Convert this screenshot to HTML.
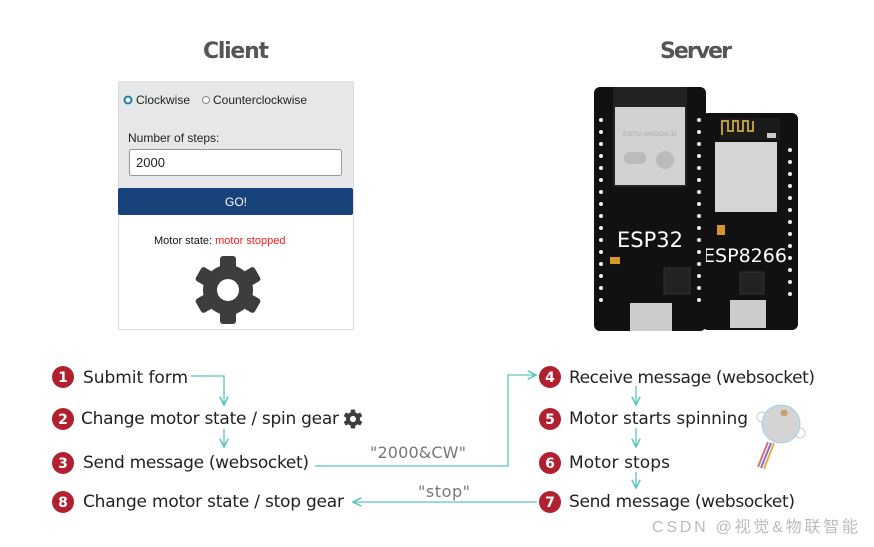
<!DOCTYPE html>
<html><head><meta charset="utf-8"><style>
html,body{margin:0;padding:0;background:#fff;}
body{width:874px;height:547px;position:relative;overflow:hidden;font-family:"Liberation Sans",sans-serif;}
svg{position:absolute;left:0;top:0;}
</style></head><body>
<svg width="874" height="547" viewBox="0 0 874 547" xmlns="http://www.w3.org/2000/svg">
<defs>
<marker id="ar" viewBox="0 0 10 10" refX="9" refY="5" markerWidth="8" markerHeight="8" orient="auto"><path d="M1,1 L9,5 L1,9" fill="none" stroke="#5cc5c0" stroke-width="1.5"/></marker>
<g id="gear">
<circle r="25" fill="#3d3d3d"/>
<g fill="#3d3d3d">
<rect x="-8" y="-34" width="16" height="68" rx="3"/>
<rect x="-8" y="-34" width="16" height="68" rx="3" transform="rotate(60)"/>
<rect x="-8" y="-34" width="16" height="68" rx="3" transform="rotate(120)"/>
</g>
<circle r="11" fill="#fff"/>
</g>
</defs>
<text x="236" y="58" font-size="22" fill="#555" text-anchor="middle" font-weight="bold" font-family="DejaVu Sans, sans-serif" textLength="66">Client</text>
<text x="696" y="58" font-size="22" fill="#555" text-anchor="middle" font-weight="bold" font-family="DejaVu Sans, sans-serif" textLength="72">Server</text>

<!-- client panel -->
<rect x="118.5" y="81.5" width="235" height="248" fill="#fff" stroke="#ddd"/>
<rect x="119" y="82" width="234" height="106" fill="#e6e7e9"/>
<circle cx="128" cy="100" r="3.5" fill="#fff" stroke="#1b7fa5" stroke-width="2"/>
<text x="136" y="104" font-size="12" fill="#222">Clockwise</text>
<circle cx="206" cy="100" r="3.5" fill="#fff" stroke="#888" stroke-width="1"/>
<text x="213" y="104" font-size="12" fill="#222">Counterclockwise</text>
<text x="128" y="142" font-size="12" fill="#222">Number of steps:</text>
<rect x="129.5" y="149.5" width="212" height="26" rx="2" fill="#fff" stroke="#999"/>
<text x="136" y="167" font-size="13" fill="#222">2000</text>
<rect x="118" y="188" width="235" height="27" rx="2" fill="#17437a"/>
<text x="236" y="206" font-size="12" fill="#fff" text-anchor="middle">GO!</text>
<text x="154" y="244" font-size="11" fill="#111">Motor state: <tspan fill="#f21c1c">motor stopped</tspan></text>
<use href="#gear" x="228" y="290"/>

<!-- ESP8266 board -->
<rect x="702" y="113" width="96" height="217" rx="6" fill="#111"/>
<path d="M720,118 h60 v22 h-60z" fill="#1a1a1a"/>
<path d="M722,135 v-14 h6 v10 h5 v-10 h5 v10 h5 v-10 h5 v10 h5 v-10" fill="none" stroke="#b99a3a" stroke-width="2"/>
<rect x="715" y="142" width="62" height="70" fill="#d5d5d5"/>
<rect x="767" y="133" width="9" height="5" fill="#ccc"/>
<text x="745" y="262" font-size="19" fill="#fff" text-anchor="middle" font-family="DejaVu Sans, sans-serif">ESP8266</text>
<rect x="730" y="300" width="36" height="28" fill="#ccc"/>
<rect x="717" y="225" width="8" height="10" fill="#d8962a"/>
<rect x="740" y="272" width="24" height="22" fill="#222" stroke="#333"/>
<!-- ESP32 board -->
<rect x="594" y="87" width="112" height="244" rx="6" fill="#111"/>
<rect x="613" y="87" width="74" height="100" fill="#222"/>
<rect x="615" y="107" width="70" height="78" fill="#d2d2d2"/>
<text x="650" y="136" font-size="6" fill="#aaa" text-anchor="middle">ESP32-WROOM-32</text>
<circle cx="665" cy="160" r="9" fill="#bbb"/>
<rect x="624" y="152" width="22" height="12" rx="5" fill="#bbb"/>
<text x="650" y="247" font-size="21" fill="#fff" text-anchor="middle" font-family="DejaVu Sans, sans-serif">ESP32</text>
<rect x="610" y="257" width="10" height="7" fill="#d8962a"/>
<rect x="664" y="268" width="26" height="26" fill="#222" stroke="#333"/>
<rect x="630" y="303" width="42" height="28" fill="#ccc"/>
<g fill="#eee">
<circle cx="601" cy="120" r="2"/><circle cx="601" cy="132" r="2"/><circle cx="601" cy="144" r="2"/><circle cx="601" cy="156" r="2"/><circle cx="601" cy="168" r="2"/><circle cx="601" cy="180" r="2"/><circle cx="601" cy="192" r="2"/><circle cx="601" cy="204" r="2"/><circle cx="601" cy="216" r="2"/><circle cx="601" cy="228" r="2"/><circle cx="601" cy="240" r="2"/><circle cx="601" cy="252" r="2"/><circle cx="601" cy="264" r="2"/><circle cx="601" cy="276" r="2"/><circle cx="601" cy="288" r="2"/><circle cx="601" cy="300" r="2"/>
<circle cx="699" cy="120" r="2"/><circle cx="699" cy="132" r="2"/><circle cx="699" cy="144" r="2"/><circle cx="699" cy="156" r="2"/><circle cx="699" cy="168" r="2"/><circle cx="699" cy="180" r="2"/><circle cx="699" cy="192" r="2"/><circle cx="699" cy="204" r="2"/><circle cx="699" cy="216" r="2"/><circle cx="699" cy="228" r="2"/><circle cx="699" cy="240" r="2"/><circle cx="699" cy="252" r="2"/><circle cx="699" cy="264" r="2"/><circle cx="699" cy="276" r="2"/><circle cx="699" cy="288" r="2"/><circle cx="699" cy="300" r="2"/>
<circle cx="790" cy="150" r="2"/><circle cx="790" cy="162" r="2"/><circle cx="790" cy="174" r="2"/><circle cx="790" cy="186" r="2"/><circle cx="790" cy="198" r="2"/><circle cx="790" cy="210" r="2"/><circle cx="790" cy="222" r="2"/><circle cx="790" cy="234" r="2"/><circle cx="790" cy="246" r="2"/><circle cx="790" cy="258" r="2"/><circle cx="790" cy="270" r="2"/><circle cx="790" cy="282" r="2"/><circle cx="790" cy="294" r="2"/>
</g>

<!-- steps -->
<g font-family="DejaVu Sans, sans-serif" font-size="17" fill="#222">
<g fill="#b0202e"><circle cx="63" cy="377" r="11"/><circle cx="63" cy="419" r="11"/><circle cx="63" cy="463" r="11"/><circle cx="63" cy="502" r="11"/>
<circle cx="550" cy="377" r="11"/><circle cx="550" cy="419" r="11"/><circle cx="550" cy="463" r="11"/><circle cx="550" cy="502" r="11"/></g>
<g fill="#fff" font-weight="bold" font-size="14" text-anchor="middle">
<text x="63" y="382">1</text><text x="63" y="424">2</text><text x="63" y="468">3</text><text x="63" y="507">8</text>
<text x="550" y="382">4</text><text x="550" y="424">5</text><text x="550" y="468">6</text><text x="550" y="507">7</text></g>
<text x="83" y="383" textLength="105">Submit form</text>
<text x="81" y="424" textLength="258">Change motor state / spin gear</text>
<text x="83" y="468" textLength="226">Send message (websocket)</text>
<text x="83" y="507" textLength="261">Change motor state / stop gear</text>
<text x="569" y="383" textLength="246">Receive message (websocket)</text>
<text x="569" y="424" textLength="179">Motor starts spinning</text>
<text x="569" y="468" textLength="101">Motor stops</text>
<text x="569" y="507" textLength="226">Send message (websocket)</text>
<text x="370" y="458" font-size="16" fill="#777" textLength="96">"2000&amp;CW"</text>
<text x="418" y="497" font-size="16" fill="#777" textLength="52">"stop"</text>
</g>
<use href="#gear" transform="translate(353,419) scale(0.28)"/>

<!-- connectors -->
<g fill="none" stroke="#5cc5c0" stroke-width="1.3">
<path d="M191,376 H224 V405" marker-end="url(#ar)"/>
<path d="M224,429 V447" marker-end="url(#ar)"/>
<path d="M315,466 H508 V375 H536" marker-end="url(#ar)"/>
<path d="M537,502 H353" marker-end="url(#ar)"/>
<path d="M636,386 V405" marker-end="url(#ar)"/>
<path d="M636,428 V447" marker-end="url(#ar)"/>
<path d="M636,472 V488" marker-end="url(#ar)"/>
</g>

<!-- motor -->
<g>
<path d="M768,442 L758,467" stroke="#e07070" stroke-width="2"/>
<path d="M771,443 L761,468" stroke="#8070d0" stroke-width="2"/>
<path d="M774,443 L764,469" stroke="#e0b040" stroke-width="2"/>
<circle cx="762" cy="417" r="5" fill="#fff" stroke="#ccc"/>
<circle cx="800" cy="433" r="5" fill="#fff" stroke="#ccc"/>
<circle cx="781" cy="424" r="19" fill="#d4d4d4" stroke="#9cd0f0" stroke-width="1"/>
<circle cx="784" cy="413" r="3.5" fill="#c9a070"/>
</g>

<text x="652" y="532" font-size="16" fill="#bbb" textLength="206" font-family="Liberation Sans, Noto Sans CJK SC, sans-serif">CSDN @视觉&amp;物联智能</text>
</svg>
</body></html>
